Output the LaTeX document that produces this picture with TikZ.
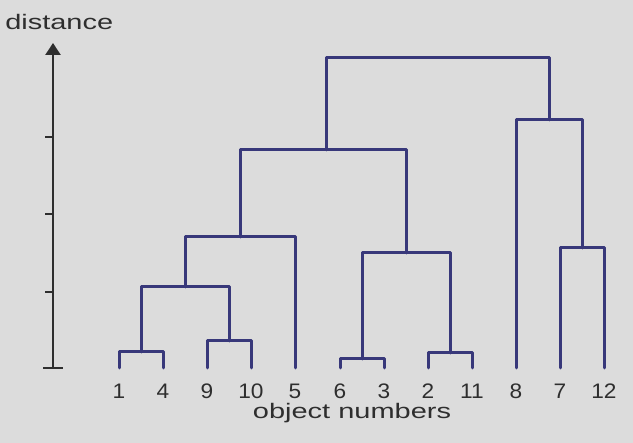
\documentclass[tikz,border=0pt]{standalone}
\usepackage{fontspec}
\setmainfont{Liberation Sans}
\usetikzlibrary{arrows.meta}

\definecolor{fondo}{HTML}{DCDCDC}
\definecolor{rama}{HTML}{38387A}
\definecolor{eje}{HTML}{2E2E2E}

\tikzset{
  rama/.style={draw=rama, line width=3pt, line cap=round, line join=round},
  ejeline/.style={draw=eje, line width=2.4pt},
  hoja/.style={font=\fontsize{21}{24}\selectfont, text=eje, inner sep=0pt, xscale=1.08},
  texto/.style={font=\fontsize{21}{24}\selectfont, text=eje, inner sep=0pt, xscale=1.38}
}

\begin{document}
\begin{tikzpicture}[x=1pt,y=-1pt]
%fondo gris de toda la figura
\fill [fondo] (0,0) rectangle (633,443);
\useasboundingbox (0,0) rectangle (633,443);

%eje de distancias
\coordinate (base) at (53,368);
\coordinate (tope) at (53,43);
\draw [ejeline,-{Triangle[width=15pt,length=12pt]}] (base) -- (tope);
\draw [ejeline] (43,368) -- (63,368);
\foreach \y in {137,214,292}
	\draw [ejeline] (45,\y) -- (53,\y);
\node [texto, anchor=west] (dist) at (5,22) {distance};

%hojas y numeracion
\foreach \n/\x in {1/119,4/163,9/207,10/251,5/295,6/340,3/384,2/428,11/472,8/516,7/560,12/604}{
	\coordinate (l\n) at (\x,368);
	\node [hoja] (n\n) at (\x,391) {\n};
}
\node [texto] (obj) at (352,413) {object numbers};

%puntos de union
\coordinate (a) at (141,352);
\coordinate (b) at (229,341);
\coordinate (c) at (362,359);
\coordinate (d) at (450,353);
\coordinate (e) at (185,287);
\coordinate (f) at (240,237);
\coordinate (g) at (406,253);
\coordinate (h) at (326,150);
\coordinate (i) at (582,248);
\coordinate (j) at (549,120);
\coordinate (k) at (436,58);

%ramas del dendrograma
\draw [rama] (l1) |- (a) -| (l4);
\draw [rama] (l9) |- (b) -| (l10);
\draw [rama] (l6) |- (c) -| (l3);
\draw [rama] (l2) |- (d) -| (l11);
\draw [rama] (a) |- (e) -| (b);
\draw [rama] (e) |- (f) -| (l5);
\draw [rama] (c) |- (g) -| (d);
\draw [rama] (f) |- (h) -| (g);
\draw [rama] (l7) |- (i) -| (l12);
\draw [rama] (l8) |- (j) -| (i);
\draw [rama] (h) |- (k) -| (j);
\end{tikzpicture}
\end{document}
